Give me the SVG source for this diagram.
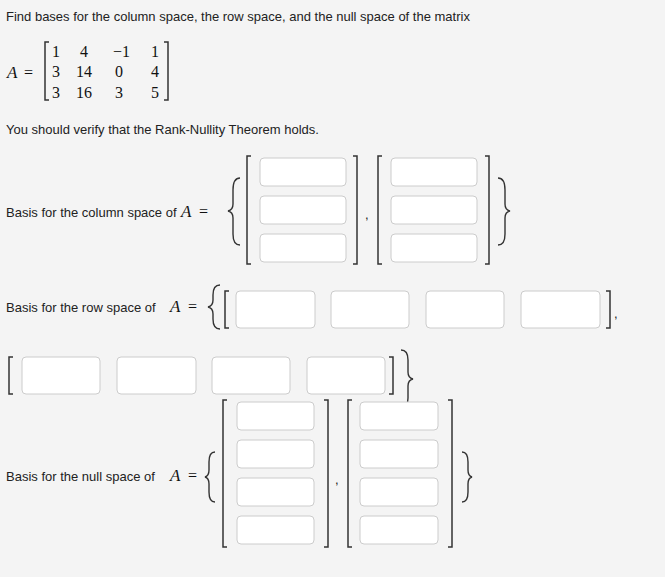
<svg xmlns="http://www.w3.org/2000/svg" width="665" height="577" viewBox="0 0 665 577">
<style>
.t{font-family:"Liberation Sans",Arial,sans-serif;font-size:13px;fill:#222}
.m{font-family:"Liberation Serif","DejaVu Serif",serif;font-size:16px;fill:#111}
.mi{font-family:"Liberation Serif","DejaVu Serif",serif;font-size:17px;font-style:italic;fill:#111}
.b{fill:#fff;stroke:#ccc;stroke-width:1}
.br{fill:none;stroke:#333;stroke-width:1.5}
.bc{fill:none;stroke:#333;stroke-width:1.4}
</style>
<rect width="665" height="577" fill="#f4f4f4"/>
<g id="header">
<text class="t" x="6" y="21">Find bases for the column space, the row space, and the null space of the matrix</text>
<text class="mi" x="7" y="78">A</text><text class="m" x="24" y="78">=</text>
<path class="br" d="M49 42H45V100H49M164 42H168V100H164"/>
<g class="m" text-anchor="end">
<text x="60" y="57">1</text><text x="88" y="57">4</text><text x="130" y="57">−1</text><text x="159" y="57">1</text>
<text x="60" y="77">3</text><text x="92" y="77">14</text><text x="123" y="77">0</text><text x="159" y="77">4</text>
<text x="60" y="98">3</text><text x="92" y="98">16</text><text x="123" y="98">3</text><text x="159" y="98">5</text>
</g>
<text class="t" x="6" y="134">You should verify that the Rank-Nullity Theorem holds.</text>
</g>
<g id="column-space">
<text class="t" x="6" y="217">Basis for the column space of</text>
<text class="mi" x="181" y="217">A</text><text class="m" x="199" y="217">=</text>
<path class="bc" d="M240 178Q233 178 233 190V204Q233 210 228 211Q233 212 233 218V234Q233 245 240 245"/>
<path class="br" d="M251 156H247V264H251M353 156H357V264H353"/>
<rect class="b" x="260" y="158" width="86" height="28" rx="4"/>
<rect class="b" x="260" y="196" width="86" height="28" rx="4"/>
<rect class="b" x="260" y="234" width="86" height="28" rx="4"/>
<text class="t" x="365" y="219" font-size="9">,</text>
<path class="br" d="M382 156H378V264H382M485 156H489V264H485"/>
<rect class="b" x="391" y="158" width="86" height="28" rx="4"/>
<rect class="b" x="391" y="196" width="86" height="28" rx="4"/>
<rect class="b" x="391" y="234" width="86" height="28" rx="4"/>
<path class="bc" d="M498 178Q505 178 505 190V204Q505 210 510 211Q505 212 505 218V234Q505 245 498 245"/>
</g>
<g id="row-space">
<text class="t" x="6" y="312">Basis for the row space of</text>
<text class="mi" x="170" y="312">A</text><text class="m" x="188" y="312">=</text>
<path class="bc" d="M220 285Q213 285 213 295V300Q213 306 208 307Q213 308 213 314V319Q213 329 220 329"/>
<path class="br" d="M229 291H225V328H229M606 291H610V328H606"/>
<rect class="b" x="236" y="291" width="79" height="37" rx="4"/>
<rect class="b" x="331" y="291" width="78" height="37" rx="4"/>
<rect class="b" x="426" y="291" width="78" height="37" rx="4"/>
<rect class="b" x="521" y="291" width="79" height="37" rx="4"/>
<text class="t" x="614" y="318" font-size="9">,</text>
<path class="br" d="M13 357H9V394H13M389 357H393V394H389"/>
<rect class="b" x="22" y="357" width="78" height="37" rx="4"/>
<rect class="b" x="117" y="357" width="79" height="37" rx="4"/>
<rect class="b" x="212" y="357" width="78" height="37" rx="4"/>
<rect class="b" x="307" y="357" width="78" height="37" rx="4"/>
<path class="bc" d="M401 350Q408 350 408 360V372Q408 378 413 379Q408 380 408 386V398Q408 408 401 408"/>
</g>
<g id="null-space">
<text class="t" x="6" y="481">Basis for the null space of</text>
<text class="mi" x="170" y="481">A</text><text class="m" x="188" y="481">=</text>
<path class="bc" d="M215 452Q209 452 209 462V470Q209 476 205 477Q209 478 209 484V492Q209 502 215 502"/>
<path class="br" d="M227 400H223V547H227M324 400H328V547H324"/>
<rect class="b" x="237" y="402" width="77" height="28" rx="4"/>
<rect class="b" x="237" y="440" width="77" height="28" rx="4"/>
<rect class="b" x="237" y="478" width="77" height="28" rx="4"/>
<rect class="b" x="237" y="516" width="77" height="28" rx="4"/>
<text class="t" x="335" y="484" font-size="9">,</text>
<path class="br" d="M352 400H348V547H352M448 400H452V547H448"/>
<rect class="b" x="360" y="402" width="78" height="28" rx="4"/>
<rect class="b" x="360" y="440" width="78" height="28" rx="4"/>
<rect class="b" x="360" y="478" width="78" height="28" rx="4"/>
<rect class="b" x="360" y="516" width="78" height="28" rx="4"/>
<path class="bc" d="M462 452Q468 452 468 462V470Q468 476 472 477Q468 478 468 484V492Q468 502 462 502"/>
</g>
</svg>
